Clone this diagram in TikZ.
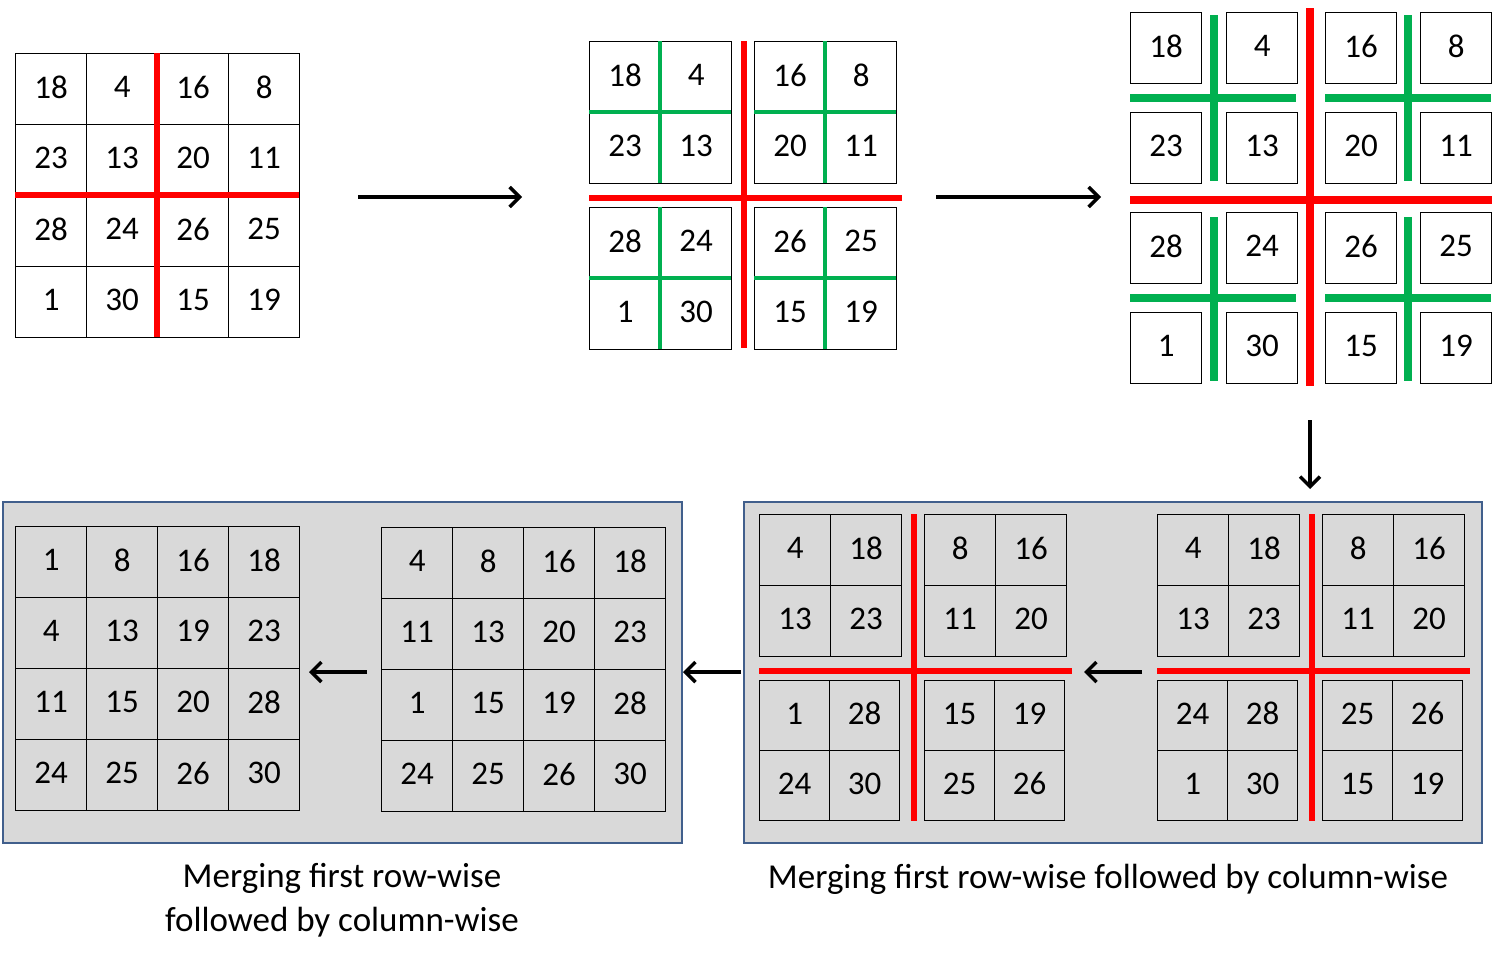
\documentclass[tikz,border=0pt]{standalone}
\usepackage{fontspec}
\setmainfont{Carlito}
\usetikzlibrary{arrows.meta}
\definecolor{rd}{RGB}{255,0,0}
\definecolor{gr}{RGB}{0,176,80}
\definecolor{pg}{RGB}{217,217,217}
\definecolor{pb}{RGB}{65,95,140}
\tikzset{
  cell/.style={draw,line width=1.3pt,minimum size=#1,inner sep=0,anchor=north west,font=\fontsize{33}{38}\selectfont},
  cell/.default=71pt,
  redline/.style={rd,line width=6.5pt},
  grnline/.style={gr,line width=4pt},
  arr/.style={line width=3.5pt,-{Straight Barb[length=10pt,width=20pt,line width=3.5pt]}},
  panel/.style={fill=pg,draw=pb,line width=2.5pt},
  captext/.style={font=\fontsize{35}{44}\selectfont,align=center}
}
% grid: prefix, x, y, ncols, cellsize, values
\newcommand{\mygrid}[6]{%
  \foreach \v [count=\i from 0] in {#6} {%
    \pgfmathtruncatemacro{\rr}{floor(\i/#4)}%
    \pgfmathtruncatemacro{\cc}{mod(\i,#4)}%
    \node[cell=#5] (#1-\i) at ({#2+\cc*#5},{#3+\rr*#5}) {\raisebox{4pt}{\v}};%
  }}
\begin{document}
\begin{tikzpicture}[x=1pt,y=-1pt]
\useasboundingbox (0,0) rectangle (1503,954);
% grid 1
\mygrid{a}{15}{53}{4}{71}{18,4,16,8,23,13,20,11,28,24,26,25,1,30,15,19}
\draw[redline] (157,53) -- (157,337);
\draw[redline] (15,195) -- (299,195);
% grid 2
\mygrid{b1}{589}{41}{2}{71}{18,4,23,13}
\mygrid{b2}{754}{41}{2}{71}{16,8,20,11}
\mygrid{b3}{589}{207}{2}{71}{28,24,1,30}
\mygrid{b4}{754}{207}{2}{71}{26,25,15,19}
\foreach \x/\y in {589/41,754/41,589/207,754/207}{
  \draw[grnline] (\x+71,\y) -- (\x+71,\y+142);
  \draw[grnline] (\x,\y+71) -- (\x+142,\y+71);
}
\draw[redline] (744,41) -- (744,348);
\draw[redline] (589,198) -- (902,198);
% grid 3
\foreach \v [count=\i from 0] in {18,4,16,8,23,13,20,11,28,24,26,25,1,30,15,19}{
  \pgfmathtruncatemacro{\rr}{floor(\i/4)}
  \pgfmathtruncatemacro{\cc}{mod(\i,4)}
  \pgfmathsetmacro{\xx}{{1130,1226,1325,1420}[\cc]}
  \pgfmathsetmacro{\yy}{{12,112,212,312}[\rr]}
  \node[cell=71pt] (c-\i) at (\xx,\yy) {\raisebox{4pt}{\v}};
}
\foreach \x in {1214,1408}{
  \draw[gr,line width=8pt] (\x,15) -- (\x,181);
  \draw[gr,line width=8pt] (\x,217) -- (\x,381);
}
\foreach \x/\y in {1130/98,1325/98,1130/298,1325/298}{
  \draw[gr,line width=8pt] (\x,\y) -- (\x+166,\y);
}
\draw[rd,line width=8pt] (1310,8) -- (1310,386);
\draw[rd,line width=8pt] (1130,200) -- (1492,200);
% panels
\draw[panel] (3,502) rectangle (682,843);
\draw[panel] (744,502) rectangle (1482,843);
\mygrid{gA}{15}{526}{4}{71}{1,8,16,18,4,13,19,23,11,15,20,28,24,25,26,30}
\mygrid{gB}{381}{527}{4}{71}{4,8,16,18,11,13,20,23,1,15,19,28,24,25,26,30}
\mygrid{d1}{759}{514}{2}{71}{4,18,13,23}
\mygrid{d2}{924}{514}{2}{71}{8,16,11,20}
\mygrid{d3}{759}{680}{2}{70}{1,28,24,30}
\mygrid{d4}{924}{680}{2}{70}{15,19,25,26}
\draw[redline] (914,514) -- (914,821);
\draw[redline] (759,671) -- (1072,671);
\mygrid{e1}{1157}{514}{2}{71}{4,18,13,23}
\mygrid{e2}{1322}{514}{2}{71}{8,16,11,20}
\mygrid{e3}{1157}{680}{2}{70}{24,28,1,30}
\mygrid{e4}{1322}{680}{2}{70}{25,26,15,19}
\draw[redline] (1312,514) -- (1312,821);
\draw[redline] (1157,671) -- (1470,671);
% arrows
\coordinate (r1s) at (358,197); \coordinate (r1e) at (522,197);
\coordinate (r2s) at (936,197); \coordinate (r2e) at (1101,197);
\coordinate (dS) at (1310,420); \coordinate (dE) at (1310,489);
\coordinate (l1s) at (1142,672); \coordinate (l1e) at (1084,672);
\coordinate (l2s) at (741,672); \coordinate (l2e) at (683,672);
\coordinate (l3s) at (367,672); \coordinate (l3e) at (309,672);
\foreach \s/\e in {r1s/r1e,r2s/r2e,dS/dE,l1s/l1e,l2s/l2e,l3s/l3e}
  \draw[arr] (\s) -- (\e);
% captions
\node[captext] (capL) at (342,900) {Merging first row-wise\\followed by column-wise};
\node[captext] (capR) at (1108,879) {Merging first row-wise followed by column-wise};
\end{tikzpicture}
\end{document}
